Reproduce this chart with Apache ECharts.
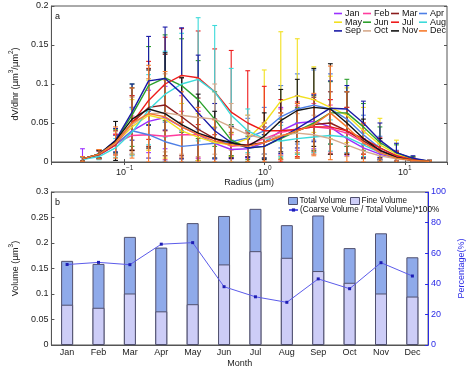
<!DOCTYPE html>
<html>
<head>
<meta charset="utf-8">
<script src="https://cdn.jsdelivr.net/npm/echarts@6/dist/echarts.min.js"></script>
<style>html,body{margin:0;padding:0;background:#fff}#c{width:474px;height:369px}</style>
</head>
<body>
<div id="c"></div>
<script>
// ---------- Panel a: volume size distributions ----------
const radius = [0.05,0.0656,0.0861,0.1129,0.1482,0.1944,0.2551,0.3347,0.4392,0.5762,0.7561,0.9920,1.3016,1.7078,2.2407,2.9400,3.8575,5.0613,6.6407,8.7131,11.4323,15.0];
const monthNames = ['Jan','Feb','Mar','Apr','May','Jun','Jul','Aug','Sep','Oct','Nov','Dec'];

const dvJan = [0.004,0.009,0.022,0.040,0.052,0.057,0.045,0.035,0.024,0.016,0.017,0.025,0.040,0.050,0.052,0.045,0.030,0.018,0.010,0.005,0.002,0.001];
const dvFeb = [0.004,0.010,0.024,0.034,0.035,0.033,0.035,0.035,0.030,0.020,0.022,0.030,0.038,0.042,0.045,0.043,0.037,0.025,0.013,0.006,0.002,0.001];
const dvMar = [0.004,0.010,0.025,0.050,0.070,0.073,0.058,0.042,0.030,0.023,0.022,0.025,0.033,0.040,0.048,0.050,0.040,0.027,0.015,0.007,0.003,0.001];
const dvApr = [0.004,0.009,0.022,0.040,0.035,0.026,0.020,0.022,0.024,0.026,0.031,0.040,0.058,0.068,0.073,0.068,0.055,0.035,0.018,0.008,0.003,0.001];
const dvMay = [0.004,0.010,0.024,0.045,0.060,0.055,0.040,0.032,0.025,0.022,0.030,0.050,0.078,0.085,0.080,0.070,0.060,0.040,0.022,0.010,0.003,0.001];
const dvJun = [0.004,0.010,0.027,0.060,0.098,0.108,0.098,0.080,0.055,0.028,0.018,0.020,0.030,0.040,0.050,0.063,0.063,0.045,0.025,0.012,0.004,0.001];
const dvJul = [0.004,0.009,0.022,0.050,0.079,0.100,0.111,0.108,0.090,0.064,0.050,0.040,0.040,0.042,0.045,0.045,0.040,0.030,0.018,0.008,0.003,0.001];
const dvAug = [0.003,0.007,0.018,0.038,0.067,0.087,0.100,0.106,0.090,0.060,0.040,0.030,0.027,0.030,0.032,0.034,0.032,0.022,0.012,0.005,0.002,0.001];
const dvSep = [0.004,0.010,0.028,0.064,0.104,0.107,0.088,0.063,0.040,0.025,0.018,0.020,0.031,0.043,0.056,0.069,0.068,0.050,0.028,0.012,0.005,0.001];
const dvOct = [0.004,0.010,0.024,0.048,0.062,0.063,0.060,0.057,0.055,0.045,0.035,0.030,0.034,0.037,0.035,0.030,0.022,0.014,0.008,0.004,0.002,0.001];
const dvNov = [0.004,0.010,0.027,0.055,0.068,0.062,0.048,0.037,0.030,0.025,0.020,0.033,0.053,0.066,0.070,0.068,0.050,0.030,0.015,0.006,0.002,0.001];
const dvDec = [0.004,0.010,0.025,0.050,0.062,0.058,0.045,0.035,0.027,0.022,0.020,0.025,0.033,0.040,0.048,0.063,0.045,0.025,0.012,0.005,0.002,0.001];

const errJan = [0.013,0.005,0.012,0.030,0.040,0.040,0.040,0.030,0.020,0.012,0.012,0.015,0.030,0.035,0.035,0.035,0.022,0.012,0.007,0.004,0.002,0.001];
const errFeb = [0.003,0.005,0.012,0.025,0.030,0.030,0.030,0.030,0.025,0.015,0.015,0.020,0.030,0.030,0.030,0.030,0.025,0.015,0.010,0.005,0.002,0.001];
const errMar = [0.003,0.005,0.015,0.035,0.050,0.065,0.050,0.040,0.025,0.015,0.015,0.020,0.030,0.035,0.035,0.040,0.030,0.020,0.012,0.006,0.002,0.001];
const errApr = [0.003,0.005,0.012,0.030,0.030,0.025,0.020,0.020,0.020,0.020,0.025,0.030,0.040,0.045,0.045,0.045,0.035,0.025,0.015,0.007,0.003,0.001];
const errMay = [0.003,0.005,0.015,0.035,0.045,0.050,0.035,0.030,0.020,0.015,0.030,0.068,0.089,0.073,0.042,0.040,0.035,0.030,0.034,0.018,0.004,0.001];
const errJun = [0.003,0.005,0.015,0.040,0.050,0.055,0.060,0.050,0.035,0.020,0.015,0.015,0.025,0.030,0.035,0.040,0.043,0.030,0.020,0.010,0.003,0.001];
const errJul = [0.003,0.005,0.013,0.035,0.050,0.060,0.060,0.060,0.055,0.079,0.067,0.057,0.040,0.035,0.035,0.035,0.030,0.020,0.013,0.006,0.002,0.001];
const errAug = [0.003,0.004,0.012,0.030,0.045,0.055,0.065,0.079,0.085,0.060,0.028,0.020,0.020,0.020,0.020,0.020,0.020,0.015,0.010,0.004,0.002,0.001];
const errSep = [0.003,0.005,0.015,0.036,0.057,0.066,0.084,0.074,0.035,0.020,0.012,0.015,0.020,0.025,0.030,0.035,0.030,0.028,0.022,0.012,0.003,0.001];
const errOct = [0.003,0.005,0.015,0.035,0.045,0.050,0.050,0.050,0.045,0.030,0.025,0.020,0.025,0.025,0.025,0.020,0.015,0.010,0.006,0.003,0.002,0.001];
const errNov = [0.003,0.005,0.025,0.040,0.050,0.078,0.060,0.050,0.035,0.020,0.020,0.030,0.040,0.040,0.050,0.058,0.040,0.025,0.015,0.006,0.002,0.001];
const errDec = [0.003,0.006,0.020,0.045,0.062,0.058,0.045,0.035,0.027,0.022,0.020,0.025,0.030,0.035,0.040,0.060,0.045,0.025,0.012,0.005,0.002,0.001];

const dvTickLabels = ['0','0.05','0.1','0.15','0.2'];

// ---------- Panel b: monthly volumes ----------
const barMonths = ['Jan','Feb','Mar','Apr','May','Jun','Jul','Aug','Sep','Oct','Nov','Dec'];
const totalVolume = [0.165,0.159,0.212,0.191,0.239,0.253,0.267,0.235,0.254,0.190,0.219,0.172];
const fineVolume  = [0.079,0.073,0.101,0.066,0.080,0.158,0.184,0.171,0.145,0.122,0.101,0.095];
const coarsePct   = [52.6,54.0,52.5,65.9,66.9,38.1,31.5,27.9,43.2,36.8,53.8,45.1];

// ---------- styling ----------
const FONT = 'Liberation Sans, Arial, Helvetica, sans-serif';
const AX = '#555';
const monthColors = ['#9b30ff','#ff3c9e','#8b1c1c','#4d7fe6','#f2e020','#2ca02c','#ee1c1c','#3cdada','#1a1aa6','#d6aa8c','#141414','#f77b2e'];
const dvAll = [dvJan,dvFeb,dvMar,dvApr,dvMay,dvJun,dvJul,dvAug,dvSep,dvOct,dvNov,dvDec];
const errAll = [errJan,errFeb,errMar,errApr,errMay,errJun,errJul,errAug,errSep,errOct,errNov,errDec];

const series = [];
monthNames.forEach((m, i) => {
  const col = monthColors[i];
  const v = dvAll[i], e = errAll[i];
  series.push({
    type: 'custom', name: m + ' err', xAxisIndex: 0, yAxisIndex: 0, clip: true,
    data: radius.map((r, k) => [r, v[k] - e[k], v[k] + e[k]]),
    encode: { x: 0, y: [1, 2] },
    renderItem: (params, api) => {
      const x = api.value(0);
      const p1 = api.coord([x, api.value(1)]);
      const p2 = api.coord([x, api.value(2)]);
      const cw = 2.4;
      const st = { stroke: col, lineWidth: 1.1 };
      return { type: 'group', children: [
        { type: 'line', shape: { x1: p1[0], y1: p1[1], x2: p2[0], y2: p2[1] }, style: st },
        { type: 'line', shape: { x1: p1[0]-cw, y1: p1[1], x2: p1[0]+cw, y2: p1[1] }, style: st },
        { type: 'line', shape: { x1: p2[0]-cw, y1: p2[1], x2: p2[0]+cw, y2: p2[1] }, style: st }
      ]};
    },
    silent: true
  });
  series.push({
    type: 'line', name: m, xAxisIndex: 0, yAxisIndex: 0,
    data: radius.map((r, k) => [r, v[k]]),
    symbol: 'none', lineStyle: { width: 1.4, color: col }, itemStyle: { color: col }
  });
});

// Panel b series
series.push({
  type: 'bar', name: 'Total Volume', xAxisIndex: 2, yAxisIndex: 2,
  data: totalVolume, barWidth: 12, barGap: '-100%',
  itemStyle: { color: '#8faaea', borderColor: '#50506e', borderWidth: 1 }
});
series.push({
  type: 'bar', name: 'Fine Volume', xAxisIndex: 2, yAxisIndex: 2,
  data: fineVolume, barWidth: 12, barGap: '-100%',
  itemStyle: { color: '#cdcdf7', borderColor: '#50506e', borderWidth: 1 }
});
series.push({
  type: 'line', name: '(Coarse Volume / Total Volume)*100%', xAxisIndex: 2, yAxisIndex: 3,
  data: coarsePct, symbol: 'rect', symbolSize: 3,
  lineStyle: { width: 1, color: '#5b5bea' }, itemStyle: { color: '#1e1eb4' }, z: 5
});

// legends for panel a (4 columns x 3 rows)
const legCols = [334, 363, 391, 419];
const legRows = [9, 17.7, 26.4];
const legends = monthNames.map((m, i) => ({
  data: [m], left: legCols[i % 4], top: legRows[Math.floor(i / 4)], padding: 0,
  icon: 'rect', itemWidth: 8, itemHeight: 1.6,
  textStyle: { fontSize: 9, fontFamily: FONT, color: '#111', padding: [0,0,0,-2] },
  selectedMode: false
}));
const bLegText = { fontSize: 8.2, fontFamily: FONT, color: '#111', padding: [0,0,0,-3] };
legends.push({
  data: ['Total Volume'], left: 288, top: 197, padding: 0, icon: 'rect', itemWidth: 9, itemHeight: 7,
  itemStyle: { borderColor: '#50506e', borderWidth: 1 }, textStyle: bLegText, selectedMode: false
});
legends.push({
  data: ['Fine Volume'], left: 350, top: 197, padding: 0, icon: 'rect', itemWidth: 9, itemHeight: 7,
  itemStyle: { borderColor: '#50506e', borderWidth: 1 }, textStyle: bLegText, selectedMode: false
});
legends.push({
  data: ['(Coarse Volume / Total Volume)*100%'], left: 288, top: 206, padding: 0, itemWidth: 9, itemHeight: 4,
  textStyle: bLegText, selectedMode: false
});

const supRich = {
  b: { fontSize: 9, fontFamily: FONT, color: '#222', lineHeight: 12, verticalAlign: 'bottom' },
  s: { fontSize: 6.5, fontFamily: FONT, color: '#222', lineHeight: 12, verticalAlign: 'top' }
};

const option = {
  animation: false,
  backgroundColor: '#fff',
  textStyle: { fontFamily: FONT },
  legend: legends,
  grid: [
    { left: 39, right: 27, top: 6, height: 156, show: true, borderColor: AX, borderWidth: 1 },
    { left: 39, right: 27, top: 192, height: 156, show: true, borderColor: AX, borderWidth: 1 }
  ],
  xAxis: [
    { type: 'log', logBase: 10, gridIndex: 0, min: 0.03, max: 20,
      axisLine: { lineStyle: { color: AX } },
      axisTick: { inside: true, length: 3, lineStyle: { color: AX } },
      splitLine: { show: false },
      axisLabel: { margin: 3, rich: supRich, showMinLabel: false, showMaxLabel: false,
        formatter: v => { const e = Math.log10(v); if (Math.abs(e - Math.round(e)) > 1e-6) return ''; return '{b|10}{s|' + String(Math.round(e)).replace('-', '\u2212') + '}'; } },
      name: '{n|Radius (}{g|\u03bc}{n|m)}', nameLocation: 'middle', nameGap: 16,
      nameTextStyle: { rich: { n: { fontSize: 9, fontFamily: FONT, color: '#222' }, g: { fontSize: 9, fontFamily: 'DejaVu Sans', color: '#222' } } }
    },
    { type: 'log', logBase: 10, gridIndex: 0, min: 0.03, max: 20, position: 'top',
      axisLine: { show: false }, axisLabel: { show: false }, splitLine: { show: false },
      axisTick: { inside: true, length: 3, lineStyle: { color: AX } } },
    { type: 'category', gridIndex: 1, data: barMonths,
      axisLine: { lineStyle: { color: AX } },
      axisTick: { inside: true, length: 3, alignWithLabel: true, lineStyle: { color: AX } },
      axisLabel: { fontSize: 9, color: '#222', margin: 3 },
      name: 'Month', nameLocation: 'middle', nameGap: 14,
      nameTextStyle: { fontSize: 9, color: '#222' }
    }
  ],
  yAxis: [
    { type: 'value', gridIndex: 0, min: 0, max: 0.2, interval: 0.05,
      axisLine: { show: true, lineStyle: { color: AX } },
      axisTick: { show: true, inside: true, length: 3, lineStyle: { color: AX } },
      splitLine: { show: false },
      axisLabel: { fontSize: 9, color: '#222', margin: 3, formatter: (v) => dvTickLabels[Math.round(v / 0.05)] },
      name: '{n|dV/dlnr (}{g|\u03bc}{n|m}{s|3}{n|/}{g|\u03bc}{n|m}{s|2}{n|)}', nameLocation: 'middle', nameGap: 26,
      nameTextStyle: { rich: {
        n: { fontSize: 9, fontFamily: FONT, color: '#222', lineHeight: 12, verticalAlign: 'bottom' },
        g: { fontSize: 9, fontFamily: 'DejaVu Sans', color: '#222', lineHeight: 12, verticalAlign: 'bottom' },
        s: { fontSize: 6.5, fontFamily: FONT, color: '#222', lineHeight: 12, verticalAlign: 'top' } } }
    },
    { type: 'value', gridIndex: 0, min: 0, max: 0.2, interval: 0.05, position: 'right',
      axisLine: { show: false }, axisLabel: { show: false }, splitLine: { show: false },
      axisTick: { show: true, inside: true, length: 3, lineStyle: { color: AX } } },
    { type: 'value', gridIndex: 1, min: 0, max: 0.3, interval: 0.05,
      axisLine: { show: true, lineStyle: { color: AX } },
      axisTick: { show: true, inside: true, length: 3, lineStyle: { color: AX } },
      splitLine: { show: false },
      axisLabel: { fontSize: 9, color: '#222', margin: 3 },
      name: '{n|Volume (}{g|\u03bc}{n|m}{s|3}{n|)}', nameLocation: 'middle', nameGap: 26,
      nameTextStyle: { rich: {
        n: { fontSize: 9, fontFamily: FONT, color: '#222', lineHeight: 12, verticalAlign: 'bottom' },
        g: { fontSize: 9, fontFamily: 'DejaVu Sans', color: '#222', lineHeight: 12, verticalAlign: 'bottom' },
        s: { fontSize: 6.5, fontFamily: FONT, color: '#222', lineHeight: 12, verticalAlign: 'top' } } }
    },
    { type: 'value', gridIndex: 1, min: 0, max: 100, interval: 20, position: 'right',
      axisLine: { show: true, lineStyle: { color: '#2a2ae6' } },
      axisTick: { show: true, inside: true, length: 3, lineStyle: { color: '#2a2ae6' } },
      splitLine: { show: false },
      axisLabel: { fontSize: 9, color: '#2a2ae6', margin: 3 },
      name: 'Percentage(%)', nameLocation: 'middle', nameGap: 18,
      nameTextStyle: { fontSize: 9, color: '#2a2ae6' }
    }
  ],
  graphic: [
    { type: 'text', left: 55, top: 12, style: { text: 'a', fontSize: 9, fontFamily: FONT, fill: '#111' } },
    { type: 'text', left: 55, top: 198, style: { text: 'b', fontSize: 9, fontFamily: FONT, fill: '#111' } }
  ],
  series: series
};

const chart = echarts.init(document.getElementById('c'), null, { renderer: 'canvas' });
chart.setOption(option);
</script>
</body>
</html>
